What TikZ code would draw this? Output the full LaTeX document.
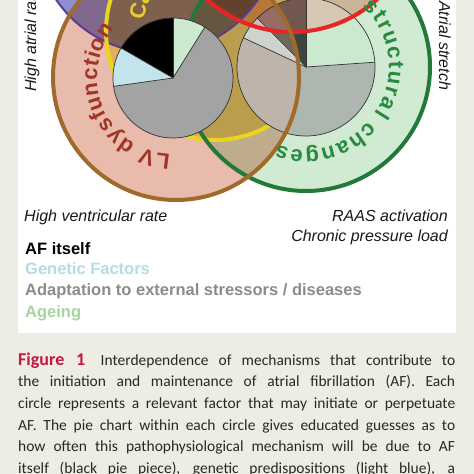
\documentclass[tikz,border=0pt]{standalone}
\usepackage{fontspec}
\setmainfont{Carlito}
\setsansfont{Liberation Sans}
\usetikzlibrary{decorations.text}

\definecolor{pagebeige}{RGB}{238,237,228}
\definecolor{atrialfill}{RGB}{120,124,204}
\definecolor{atrialline}{RGB}{92,60,144}
\definecolor{cafill}{RGB}{250,232,120}
\definecolor{caline}{RGB}{232,214,30}
\definecolor{catext}{RGB}{236,204,40}
\definecolor{stretchfill}{RGB}{250,185,170}
\definecolor{stretchline}{RGB}{232,36,38}
\definecolor{lvfill}{RGB}{230,176,158}
\definecolor{lvline}{RGB}{160,106,42}
\definecolor{lvtext}{RGB}{160,52,40}
\definecolor{scfill}{RGB}{200,232,203}
\definecolor{scline}{RGB}{36,120,58}
\definecolor{sctext}{RGB}{40,138,64}
\definecolor{afblack}{RGB}{0,0,0}
\definecolor{geneblue}{RGB}{196,228,236}
\definecolor{adaptgray}{RGB}{163,163,163}
\definecolor{ageingreen}{RGB}{205,234,207}
\definecolor{genelegend}{RGB}{180,220,230}
\definecolor{adaptlegend}{RGB}{140,140,140}
\definecolor{ageinglegend}{RGB}{168,212,160}
\definecolor{figred}{RGB}{196,24,60}
\definecolor{captext}{RGB}{40,40,40}

\tikzset{
  ring/.style={line width=4pt},
  pieedge/.style={draw=black!80, line width=0.7pt},
  lbl/.style={font=\sffamily\itshape\fontsize{16}{16}\selectfont, text=black!90, inner sep=0},
  legend/.style={font=\sffamily\bfseries\fontsize{16.5}{16.5}\selectfont, inner sep=0, anchor=base west},
  capline/.style={font=\fontsize{15.5}{21.7}\selectfont, text=captext, inner sep=0, anchor=base west}
}

\begin{document}
\begin{tikzpicture}[x=1pt, y=1pt, line join=round, line cap=round]
\useasboundingbox (0,0) rectangle (474,-474);
\fill[pagebeige] (0,0) rectangle (474,-474);
\fill[white] (18,0) rectangle (456,-333);

\coordinate [] (AR) at (157,69);
\coordinate [] (CA) at (215,-31);
\coordinate [] (ST) at (292,95);
\coordinate [] (LV) at (176,-77);
\coordinate [] (SC) at (306,-67);
\coordinate [] (LVP) at (173,-78);
\coordinate [] (SCP) at (306,-67);

\begin{scope}
\clip (18,0) rectangle (456,-333);

\begin{scope}[blend mode=multiply, fill opacity=.85]
\fill[atrialfill] (AR) circle (122);
\fill[cafill] (CA) circle (109);
\fill[scfill] (SC) circle (124);
\fill[lvfill] (LV) circle (123);
\fill[stretchfill] (ST) circle (127);
\end{scope}

\draw[atrialline, line width=2pt] (AR) circle (122);
\draw[caline, ring] (CA) circle (109);
\draw[scline, ring] (SC) circle (124);

% pie of the structural changes ring
\foreach \a/\b/\c in {4/90/ageingreen, 90/135/afblack, 135/155/geneblue, 155/364/adaptgray}
  \fill[\c] (SCP) -- ++(\a:69) arc[start angle=\a, end angle=\b, radius=69] -- cycle;
\begin{scope}[fill opacity=.3]
\clip (SCP) circle (69);
\fill[scfill] (SC) circle (124);
\fill[lvfill] (LV) circle (123);
\fill[stretchline!60] (ST) circle (127);
\end{scope}
\foreach \a in {4,90,135,155}
  \draw[pieedge] (SCP) -- ++(\a:69);
\draw[pieedge] (SCP) circle (69);

% pie of the LV dysfunction ring
\foreach \a/\b/\c in {58/90/ageingreen, 90/150/afblack, 150/188/geneblue, 188/418/adaptgray}
  \fill[\c] (LVP) -- ++(\a:60) arc[start angle=\a, end angle=\b, radius=60] -- cycle;
\foreach \a in {58,90,150,188}
  \draw[pieedge] (LVP) -- ++(\a:60);
\draw[pieedge] (LVP) circle (60);

\draw[stretchline, ring] (ST) circle (127);
\draw[lvline, ring] (LV) circle (123);

\path[decorate, decoration={text along path, text align={fit to path},
  text={|\sffamily\bfseries\fontsize{22}{22}\selectfont\color{lvtext}|LV dysfunction}}]
  (LVP) ++(268:76) arc[start angle=268, end angle=140, radius=76];
\path[decorate, decoration={text along path, text align={fit to path},
  text={|\sffamily\bfseries\fontsize{22}{22}\selectfont\color{sctext}|structural changes}}]
  (SCP) ++(47:83) arc[start angle=47, end angle=-110, radius=83];
\path[decorate, decoration={text along path,
  text={|\sffamily\bfseries\fontsize{22}{22}\selectfont\color{catext}|Ca}}]
  (CA) ++(172:72) arc[start angle=172, end angle=110, radius=72];
\end{scope}

\node[lbl, rotate=90, anchor=base west] (highatrial) at (36,-92) {High atrial rate};
\node[lbl, rotate=-90, anchor=base west] (stretch) at (439,-1) {Atrial stretch};
\node[lbl, anchor=base west] (highventr) at (24,-221) {High ventricular rate};
\node[lbl, anchor=base east] (raas) at (448,-221) {RAAS activation};
\node[lbl, anchor=base east] (pressure) at (448,-241) {Chronic pressure load};

\node[legend, text=black] (afitself) at (25,-254) {AF itself};
\node[legend, text=genelegend] (genetic) at (25,-274) {Genetic Factors};
\node[legend, text=adaptlegend] (adaptation) at (25,-295) {Adaptation to external stressors / diseases};
\node[legend, text=ageinglegend] (ageing) at (25,-317) {Ageing};

\foreach \txt [count=\n] in {
  {\textcolor{figred}{\fontsize{18}{18}\selectfont\bfseries Figure 1}\quad Interdependence of mechanisms that contribute to},
  {the initiation and maintenance of atrial fibrillation (AF). Each},
  {circle represents a relevant factor that may initiate or perpetuate},
  {AF. The pie chart within each circle gives educated guesses as to},
  {how often this pathophysiological mechanism will be due to AF},
  {itself (black pie piece), genetic predispositions (light blue), a}}
  \node[capline] (cap\n) at (18,{-365-21.7*(\n-1)}) {\makebox[437pt][s]{\txt}};
\end{tikzpicture}
\end{document}
